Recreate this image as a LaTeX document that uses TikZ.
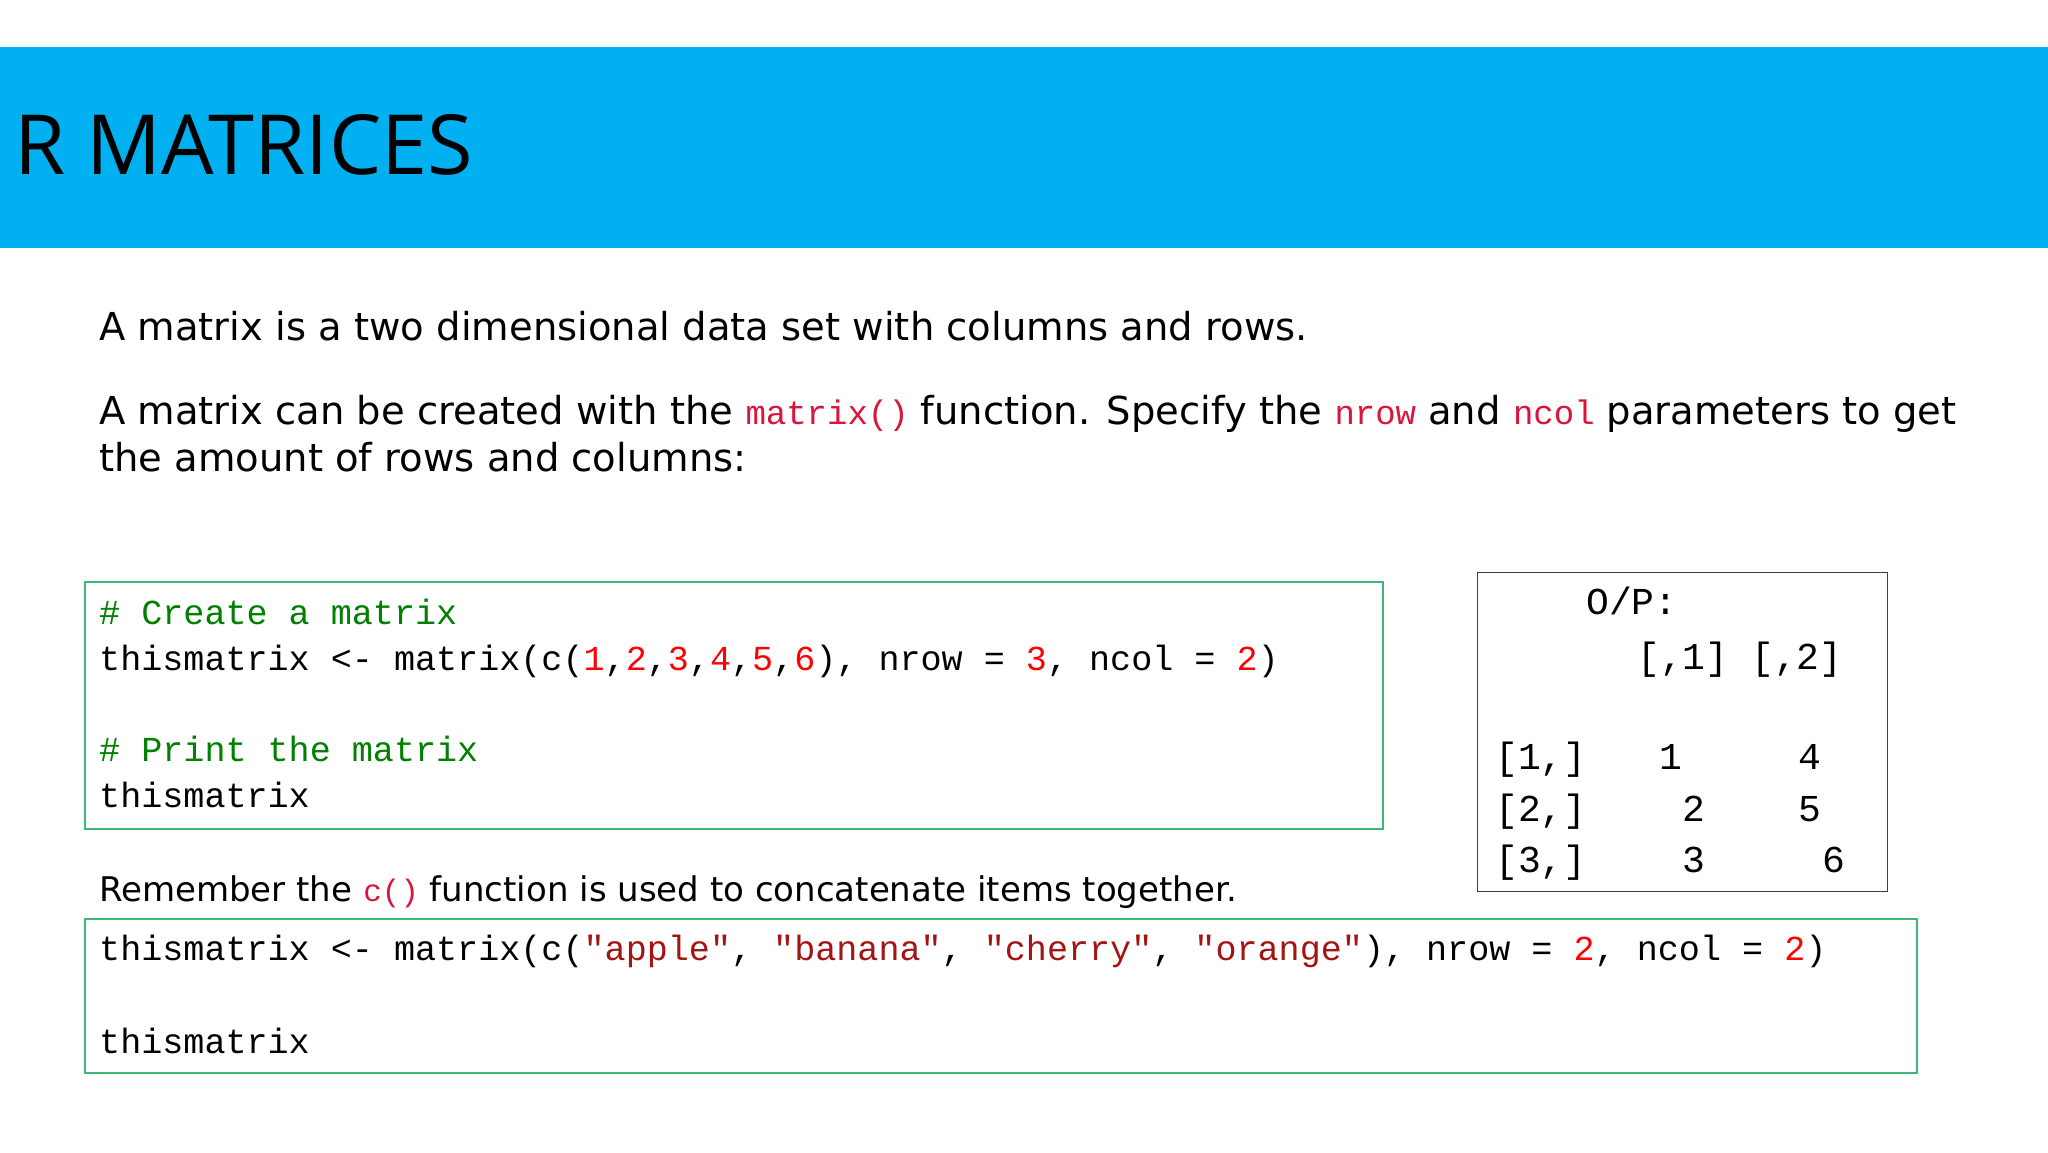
\documentclass[tikz,border=0pt]{standalone}
\usepackage{fontspec}
\setmainfont{DejaVu Sans}
\newfontfamily\titlefont{Open Sans}
\newfontfamily\codefont{Liberation Mono}
\definecolor{barblue}{HTML}{00B0F0}
\definecolor{boxgreen}{HTML}{3CB878}
\definecolor{cmtgreen}{HTML}{008000}
\definecolor{numred}{HTML}{FF0000}
\definecolor{strred}{HTML}{A31515}
\definecolor{kwred}{HTML}{DC143C}
\newcommand{\cN}[1]{\textcolor{numred}{#1}}
\newcommand{\cS}[1]{\textcolor{strred}{#1}}
\newcommand{\cK}[1]{{\codefont\textcolor{kwred}{#1}}}
\tikzset{
  body/.style={anchor=base west,inner sep=0pt,font=\fontsize{38.5}{44}\selectfont},
  small/.style={anchor=base west,inner sep=0pt,font=\fontsize{34}{40}\selectfont},
  code/.style={anchor=base west,inner sep=0pt,font=\codefont\fontsize{35.1}{40}\selectfont},
  optext/.style={anchor=base west,inner sep=0pt,font=\codefont\fontsize{38}{44}\selectfont},
  codebox/.style={draw=boxgreen,line width=1.5pt},
}
\begin{document}
\begin{tikzpicture}[x=1pt,y=-1pt]
\useasboundingbox (0,0) rectangle (2048,1152);
\fill[white] (0,0) rectangle (2048,1152);
\fill[barblue] (0,47) rectangle (2048,248);
\node[anchor=base west,inner sep=0pt,font=\titlefont\fontsize{83}{96}\selectfont] (title) at (14,174) {R MATRICES};
\node[body] (p1) at (99,340) {A matrix is a two dimensional data set with columns and rows.};
\node[body] (p2) at (99,424) {A matrix can be created with the {\fontsize{34}{40}\selectfont\cK{matrix()}} function. Specify the {\fontsize{34}{40}\selectfont\cK{nrow}} and {\fontsize{34}{40}\selectfont\cK{ncol}} parameters to get};
\node[body] (p3) at (99,471) {the amount of rows and columns:};
\node[codebox,minimum width=1298pt,minimum height=247pt,anchor=north west,inner sep=0pt] (box1) at (84,581) {};
\node[code] (c1) at (99,624) {\textcolor{cmtgreen}{\# Create a matrix}};
\node[code] (c2) at (99,670) {thismatrix <- matrix(c(\cN{1},\cN{2},\cN{3},\cN{4},\cN{5},\cN{6}), nrow = \cN{3}, ncol = \cN{2})};
\node[code] (c3) at (99,761) {\textcolor{cmtgreen}{\# Print the matrix}};
\node[code] (c4) at (99,807) {thismatrix};
\node[draw=black!75,line width=1.2pt,minimum width=410pt,minimum height=319pt,anchor=north west,inner sep=0pt] (opbox) at (1477,572) {};
\node[optext] (o0) at (1586,614) {O/P:};
\node[optext] (o1) at (1637,669) {[,1] [,2]};
\node[optext] (r1) at (1495,769) {[1,]};
\node[optext] (r2) at (1495,821) {[2,]};
\node[optext] (r3) at (1495,872) {[3,]};
\node[optext] (v11) at (1659,769) {1};
\node[optext] (v12) at (1798,769) {4};
\node[optext] (v21) at (1682,821) {2};
\node[optext] (v22) at (1798,821) {5};
\node[optext] (v31) at (1682,872) {3};
\node[optext] (v32) at (1822,872) {6};
\node[small] (rem) at (99,901) {Remember the {\fontsize{31}{36}\selectfont\cK{c()}} function is used to concatenate items together.};
\node[codebox,minimum width=1832pt,minimum height=154pt,anchor=north west,inner sep=0pt] (box2) at (84,918) {};
\node[code] (d1) at (99,960) {thismatrix <- matrix(c(\cS{"apple"}, \cS{"banana"}, \cS{"cherry"}, \cS{"orange"}), nrow = \cN{2}, ncol = \cN{2})};
\node[code] (d2) at (99,1053) {thismatrix};
\end{tikzpicture}
\end{document}
